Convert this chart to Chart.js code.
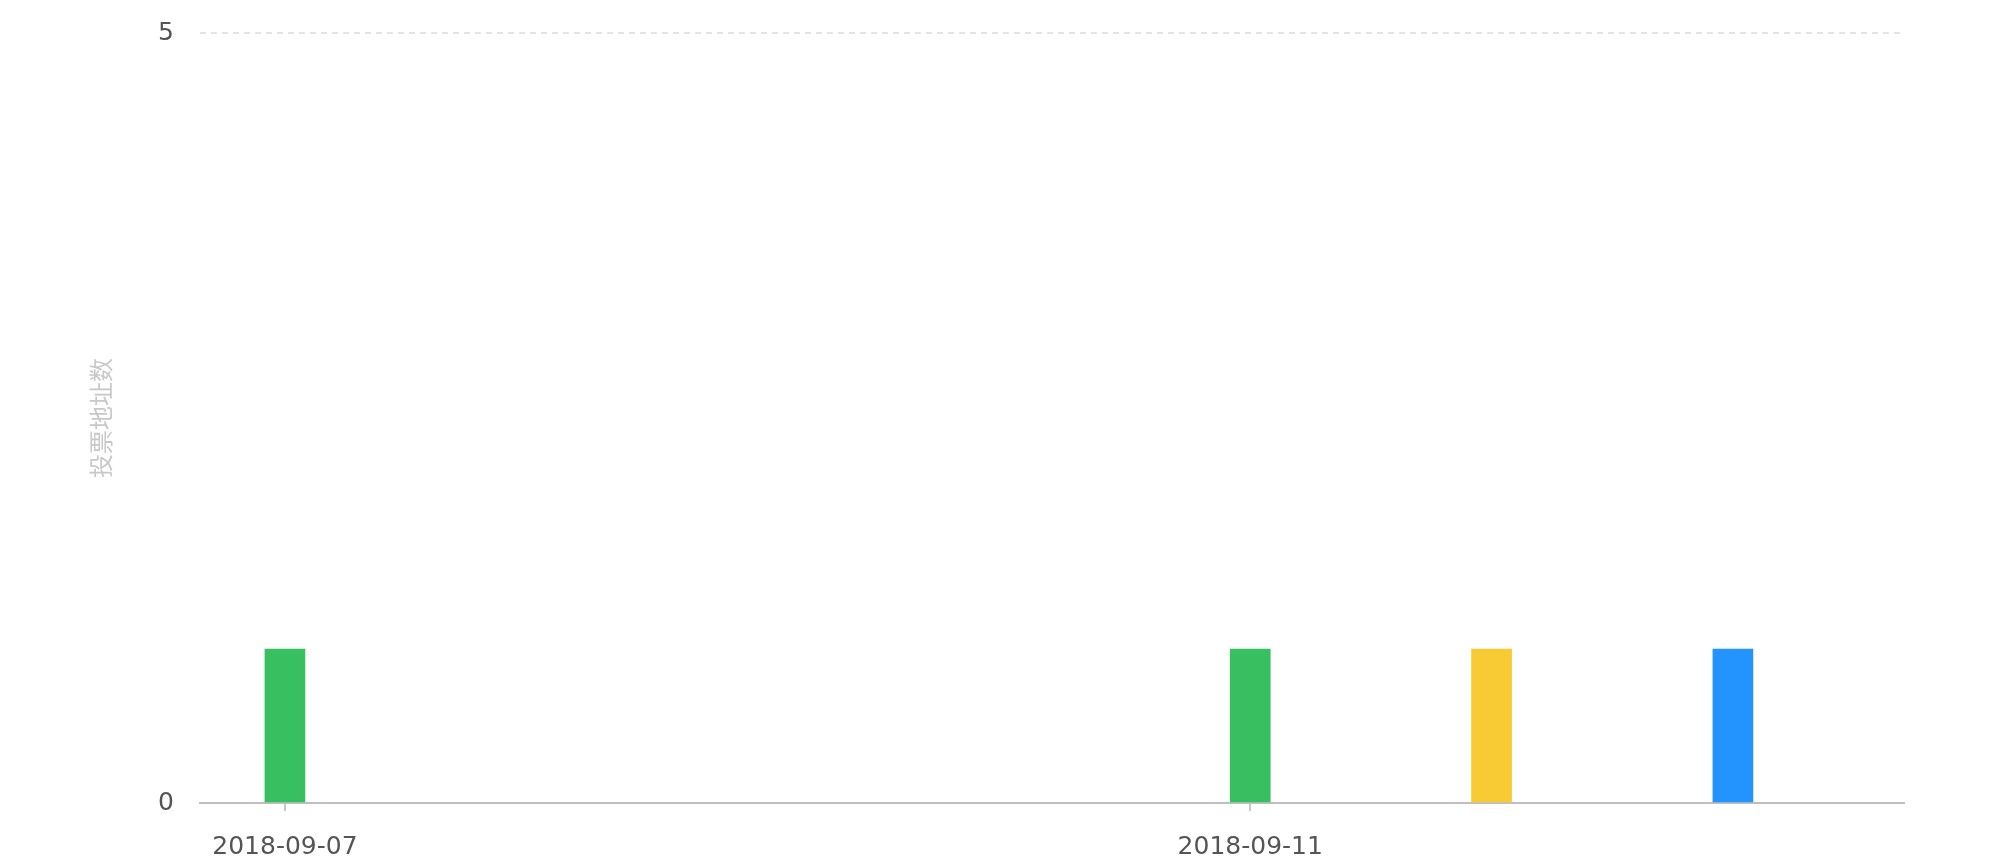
<!DOCTYPE html>
<html>
<head>
<meta charset="utf-8">
<script src="https://cdn.jsdelivr.net/npm/chart.js@4"></script>
<style>
  html, body { margin: 0; padding: 0; background: #fff; }
  #wrap { width: 1994px; height: 864px; }
</style>
</head>
<body>
<div id="wrap"><canvas id="voteChart"></canvas></div>
<script>
// data
const dates = ["2018-09-07", "2018-09-11", "2018-09-12", "2018-09-13"];
const voteCounts = [1, 1, 1, 1];
const barColors = ["#38c060", "#38c060", "#f8ca33", "#2393fd"];
const tickDates = ["2018-09-07", "2018-09-11"];
const yTicks = [0, 5];
const yTitle = "投票地址数";

// date string -> day number
function toDay(s) {
    return Date.parse(s + "T00:00:00Z") / 864e5;
}

const points = dates.map((d, i) => ({ x: toDay(d), y: voteCounts[i] }));
const firstDay = toDay(dates[0]);
const lastDay = toDay(dates[dates.length - 1]);

const tickFont = "'DejaVu Sans', sans-serif";

new Chart(document.getElementById("voteChart"), {
    type: "bar",
    data: {
        datasets: [{
            data: points,
            backgroundColor: barColors,
            barThickness: 40,
            borderWidth: 0
        }]
    },
    options: {
        responsive: true,
        maintainAspectRatio: false,
        animation: false,
        layout: { padding: { left: 80, right: 90, top: 33, bottom: 0 } },
        plugins: {
            legend: { display: false },
            tooltip: { enabled: false }
        },
        scales: {
            x: {
                type: "linear",
                offset: false,
                min: firstDay - 0.352,
                max: lastDay + 0.709,
                afterBuildTicks: scale => {
                    scale.ticks = tickDates.map(d => ({ value: toDay(d) }));
                },
                afterFit: scale => { scale.height = 61; },
                ticks: {
                    autoSkip: false,
                    maxRotation: 0,
                    padding: 21,
                    color: "#555",
                    font: { family: tickFont, size: 25 },
                    callback: value => {
                        const i = tickDates.findIndex(d => toDay(d) === value);
                        return i >= 0 ? tickDates[i] : "";
                    }
                },
                grid: {
                    offset: false,
                    drawOnChartArea: false,
                    drawTicks: true,
                    tickLength: 8,
                    color: "#c8c8c8",
                    lineWidth: 2
                },
                border: { display: true, color: "#bfbfbf", width: 2 }
            },
            y: {
                min: 0,
                max: 5,
                afterBuildTicks: scale => {
                    scale.ticks = yTicks.map(v => ({ value: v }));
                },
                afterFit: scale => {
                    scale.width = 120;
                    scale.paddingTop = 0;
                    scale.paddingBottom = 0;
                },
                ticks: {
                    padding: 26,
                    color: "#555",
                    font: { family: tickFont, size: 25 }
                },
                grid: {
                    drawTicks: false,
                    color: ctx => ctx.tick && ctx.tick.value === 0 ? "rgba(0,0,0,0)" : "#e3e3e3",
                    lineWidth: 2
                },
                border: { display: false, dash: [6, 5] },
                title: {
                    display: true,
                    text: yTitle,
                    color: "#c8c8c8",
                    padding: { top: 6, bottom: 0 },
                    font: { family: "'Noto Sans CJK SC', sans-serif", size: 24 }
                }
            }
        }
    }
});
</script>
</body>
</html>
